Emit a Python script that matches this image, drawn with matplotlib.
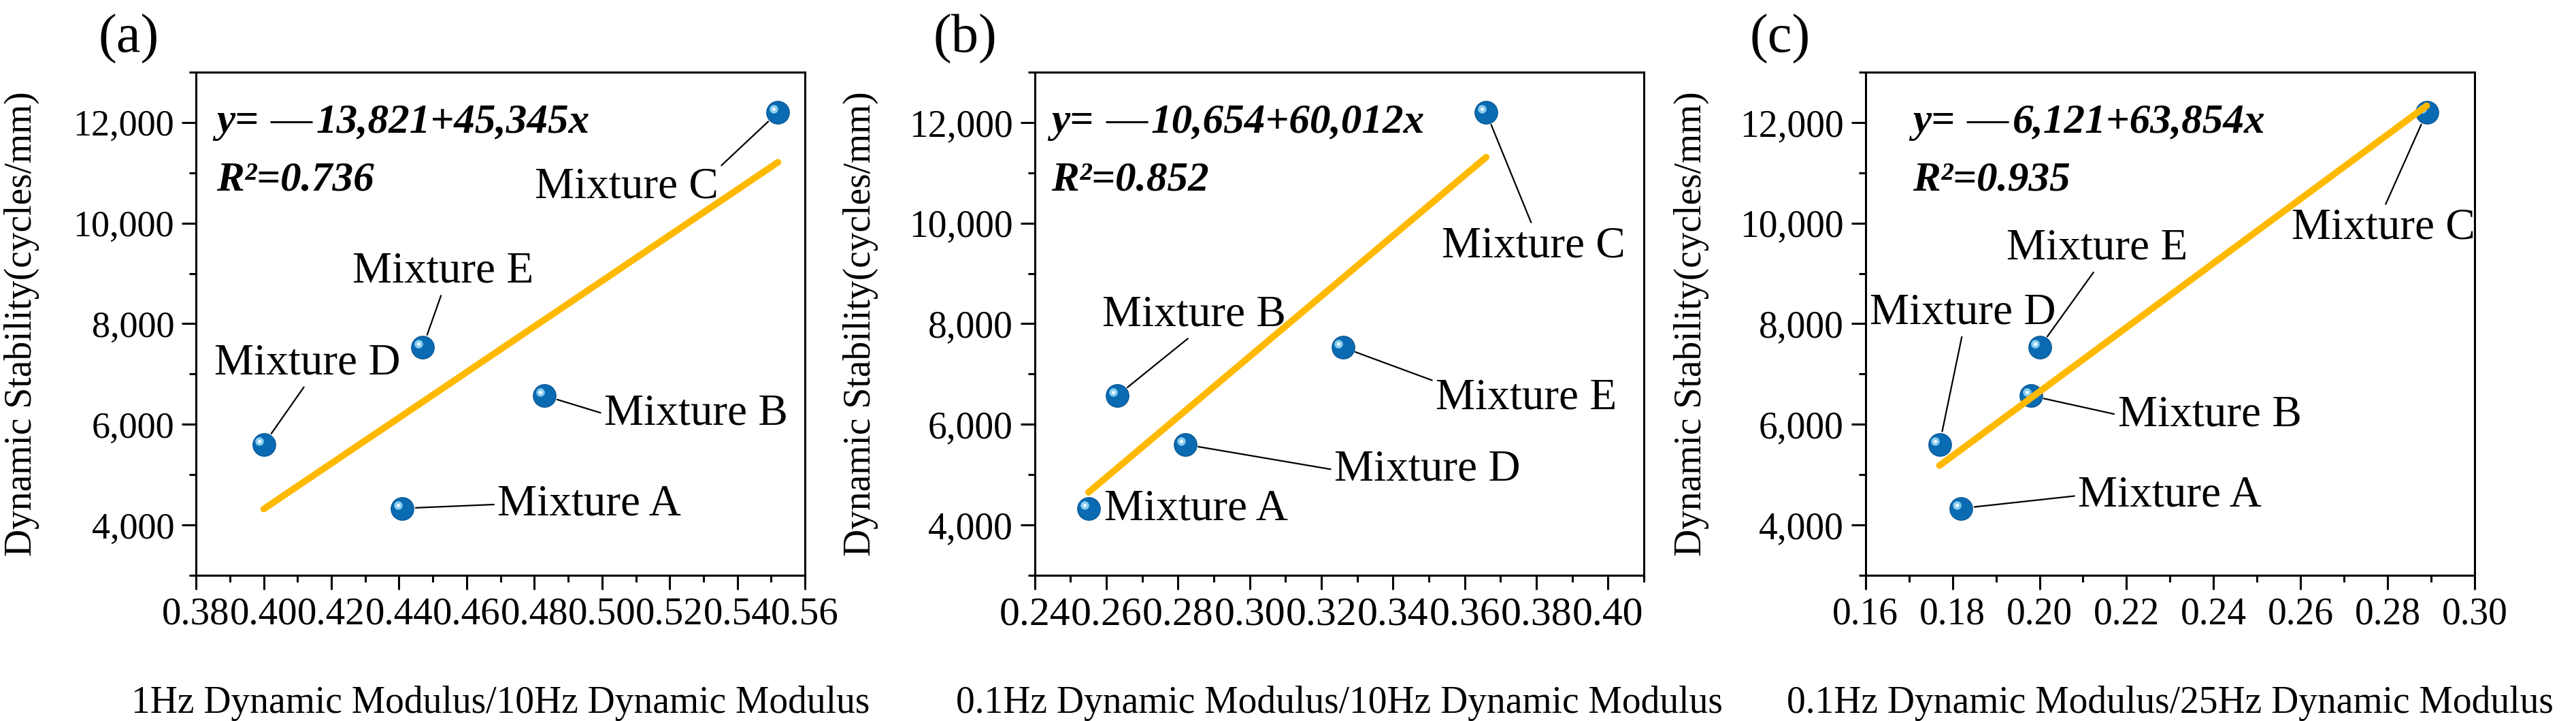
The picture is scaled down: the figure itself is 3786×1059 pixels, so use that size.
import matplotlib
matplotlib.use("Agg")
import matplotlib.pyplot as plt
from matplotlib.ticker import MultipleLocator, FuncFormatter
from matplotlib.transforms import offset_copy
import numpy as np

plt.rcParams['font.family'] = ['Liberation Serif', 'DejaVu Serif']

# data
mixtures = ['Mixture A', 'Mixture B', 'Mixture C', 'Mixture D', 'Mixture E']
stability = [4330, 6570, 12200, 5600, 7530]

ratio_a = [0.441, 0.483, 0.552, 0.400, 0.447]
ratio_b = [0.255, 0.263, 0.366, 0.282, 0.326]
ratio_c = [0.182, 0.198, 0.289, 0.177, 0.200]

intercepts = [-13821, -10654, -6121]
slopes = [45345, 60012, 63854]
r2_values = [0.736, 0.852, 0.935]

panel_tags = ['(a)', '(b)', '(c)']
xlabels = ['1Hz Dynamic Modulus/10Hz Dynamic Modulus',
           '0.1Hz Dynamic Modulus/10Hz Dynamic Modulus',
           '0.1Hz Dynamic Modulus/25Hz Dynamic Modulus']
xlims = [(0.38, 0.56), (0.24, 0.41), (0.16, 0.30)]

# label placement (data coords of label centre) and where the leader leaves the text
label_pos = [
    {'Mixture A': (0.4963, 4410), 'Mixture B': (0.5278, 6207), 'Mixture C': (0.5072, 10723),
     'Mixture D': (0.4130, 7211), 'Mixture E': (0.4530, 9035)},
    {'Mixture A': (0.2851, 4319), 'Mixture B': (0.2845, 8169), 'Mixture C': (0.3792, 9537),
     'Mixture D': (0.3496, 5095), 'Mixture E': (0.3772, 6527)},
    {'Mixture A': (0.2300, 4584), 'Mixture B': (0.2391, 6189), 'Mixture C': (0.2790, 9902),
     'Mixture D': (0.1824, 8214), 'Mixture E': (0.2133, 9492)},
]
leader_rel = [
    {'Mixture A': (0, 0.5), 'Mixture B': (0, 0.5), 'Mixture C': (1.0, 0.95),
     'Mixture D': (0.5, 0.05), 'Mixture E': (0.5, 0.05)},
    {'Mixture A': None, 'Mixture B': (0.5, 0.05), 'Mixture C': (0.5, 0.95),
     'Mixture D': (0, 0.5), 'Mixture E': (0, 0.9)},
    {'Mixture A': (0, 0.5), 'Mixture B': (0, 0.5), 'Mixture C': (0.5, 0.95),
     'Mixture D': (0.5, 0.05), 'Mixture E': (0.5, 0.05)},
]
eq_x = [0.033, 0.027, 0.077]
tag_x = [-0.111, -0.114, -0.14]
xtick_size = [41, 43, 40]
ytick_size = [39, 40, 40]

ratios = [ratio_a, ratio_b, ratio_c]

fig = plt.figure(figsize=(37.86, 10.59), dpi=100)
lefts = [0.0761, 0.4017, 0.7242]

for i in range(3):
    ax = fig.add_axes([lefts[i], 0.2021, 0.2364, 0.6978])
    x = np.array(ratios[i])
    y = np.array(stability)

    # glossy blue balls
    ax.plot(x, y, 'o', ms=24, color='#0a6bb2', mec='#0a5896', mew=1, zorder=3)
    hl = offset_copy(ax.transData, fig=fig, x=-4.5, y=3.5, units='points')
    ax.plot(x, y, 'o', ms=9, color='#86cdef', mew=0, transform=hl, zorder=4)
    ax.plot(x, y, 'o', ms=3.5, color='white', mew=0, transform=hl, zorder=5)

    # fit line
    xf = np.array([x.min(), x.max()])
    ax.plot(xf, intercepts[i] + slopes[i] * xf, color='#FFB900', lw=7,
            solid_capstyle='round', zorder=6)

    for j, name in enumerate(mixtures):
        tx, ty = label_pos[i][name]
        rel = leader_rel[i][name]
        if rel is None:
            ax.text(tx, ty, name, fontsize=47, ha='center', va='center', zorder=7)
        else:
            ax.annotate(name, xy=(x[j], y[j]), xytext=(tx, ty), fontsize=47,
                        ha='center', va='center', zorder=7,
                        arrowprops=dict(arrowstyle='-', color='black', lw=1.6,
                                        relpos=rel, shrinkA=2, shrinkB=14))

    # equation: thin dash in normal weight, numbers bold italic
    eq = ax.text(eq_x[i], 0.901, 'y= ', transform=ax.transAxes, fontsize=44,
                 fontweight='bold', fontstyle='italic', ha='left', va='center')
    eq = ax.annotate('\u2014', xycoords=eq, xy=(1, 0.5), xytext=(2, 0),
                     textcoords='offset points', fontsize=44, ha='left', va='center')
    ax.annotate('%s+%sx' % (format(-intercepts[i], ','), format(slopes[i], ',')),
                xycoords=eq, xy=(1, 0.5), xytext=(4, 0), textcoords='offset points',
                fontsize=44, fontweight='bold', fontstyle='italic', ha='left', va='center')
    ax.text(eq_x[i], 0.785, 'R\u00b2=%.3f' % r2_values[i],
            transform=ax.transAxes, fontsize=44, fontweight='bold', fontstyle='italic',
            ha='left', va='center')

    ax.text(tag_x[i], 1.066, panel_tags[i], transform=ax.transAxes, fontsize=58,
            ha='center', va='center')

    ax.set_xlim(*xlims[i])
    ax.set_ylim(3000, 13000)
    ax.xaxis.set_major_locator(MultipleLocator(0.02))
    ax.xaxis.set_minor_locator(MultipleLocator(0.01))
    ax.yaxis.set_minor_locator(MultipleLocator(1000))
    ax.xaxis.set_major_formatter(FuncFormatter(lambda v, p: '%.2f' % v))
    ax.yaxis.set_major_formatter(FuncFormatter(lambda v, p: format(int(round(v)), ',')))
    ax.set_yticks([4000, 6000, 8000, 10000, 12000])

    ax.tick_params(which='major', direction='out', length=15, width=2.2, pad=8)
    ax.tick_params(axis='x', which='major', labelsize=xtick_size[i])
    ax.tick_params(axis='y', which='major', labelsize=ytick_size[i])
    ax.tick_params(which='minor', direction='out', length=7.5, width=2.2)
    for s in ax.spines.values():
        s.set_linewidth(2.2)

    ax.set_xlabel(xlabels[i], fontsize=40)
    ax.set_ylabel('Dynamic Stability(cycles/mm)', fontsize=40)
    ax.xaxis.set_label_coords(0.5, -0.219)
    ax.yaxis.set_label_coords(-0.257, 0.5)

fig.savefig('out.png', dpi=100)
